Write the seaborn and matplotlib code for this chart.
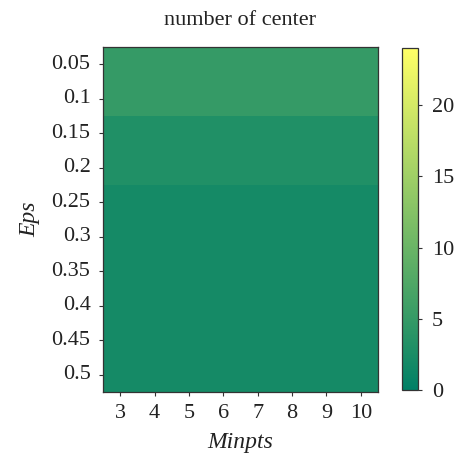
import numpy as np
import pandas as pd
import seaborn as sns
import matplotlib
matplotlib.use("Agg")
import matplotlib.pyplot as plt

eps = ["0.05", "0.1", "0.15", "0.2", "0.25", "0.3", "0.35", "0.4", "0.45", "0.5"]
minpts = ["3", "4", "5", "6", "7", "8", "9", "10"]
row_values = [5, 5, 3, 3, 2, 2, 2, 2, 2, 2]
cbar_ticks = [0, 5, 10, 15, 20]

data = pd.DataFrame([[v] * len(minpts) for v in row_values], index=eps, columns=minpts)

sns.set_style("white")
plt.rcParams['font.family'] = ['Liberation Serif', 'DejaVu Serif']

fig = plt.figure(figsize=(4.74, 4.74), dpi=100)
ax = fig.add_axes([103/474, 1 - 392/474, 275/474, 345/474])
cax = fig.add_axes([402/474, 1 - 390/474, 16/474, 342/474])

sns.heatmap(data, ax=ax, cbar_ax=cax, cmap="summer", vmin=0, vmax=24,
            cbar_kws={"ticks": cbar_ticks})

for s in ax.spines.values():
    s.set_visible(True)
    s.set_color("#333333")
    s.set_linewidth(0.9)
ax.tick_params(axis="both", which="both", direction="out", length=3, width=0.8,
               color="#333333", labelsize=16, pad=6, left=True, bottom=True,
               labelcolor="#222222")
ax.set_yticklabels(eps, rotation=0)
ax.set_xticklabels(minpts, rotation=0)
ax.set_xlabel("Minpts", fontsize=17, style="italic", labelpad=6, color="#222222")
ax.set_ylabel("Eps", fontsize=17, style="italic", labelpad=8, color="#222222")
ax.set_title("number of center", fontsize=16, pad=16, color="#222222")

cax.tick_params(direction="out", length=3, width=0.8, color="#333333", labelsize=16,
                pad=7, right=True, labelcolor="#222222")
cbar = ax.collections[0].colorbar
cbar.outline.set_visible(True)
cbar.outline.set_edgecolor("#333333")
cbar.outline.set_linewidth(0.9)

fig.savefig("out.png", dpi=100, facecolor="white")
